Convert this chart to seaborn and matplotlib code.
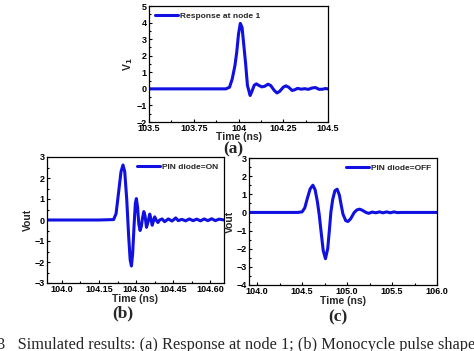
import numpy as np
import pandas as pd
import matplotlib
matplotlib.use('Agg')
import matplotlib.pyplot as plt
from matplotlib.ticker import AutoMinorLocator
import seaborn as sns

sns.set_style("ticks")
plt.rcParams['font.family'] = ['Liberation Sans', 'DejaVu Sans']

# (a) response at node 1
t_a = [103.5, 103.93, 103.95, 103.965, 103.98, 103.99, 104.0, 104.01, 104.02, 104.03,
       104.04, 104.05, 104.065, 104.075, 104.088, 104.10, 104.115, 104.13, 104.145, 104.165,
       104.18, 104.20, 104.215, 104.23, 104.25, 104.265, 104.28, 104.30, 104.315, 104.33,
       104.35, 104.37, 104.39, 104.41, 104.43, 104.45, 104.47, 104.485, 104.5]
v_a = [0, 0, 0.1, 0.6, 1.4, 2.2, 3.3, 3.95, 3.7, 2.6,
       1.5, 0.2, -0.4, -0.15, 0.22, 0.3, 0.2, 0.12, 0.15, 0.28,
       0.2, -0.1, -0.25, -0.15, 0.1, 0.18, 0.1, -0.1, -0.05, 0.03,
       -0.02, 0.01, -0.03, 0.05, 0.08, -0.03, -0.02, 0.02, 0]

# (b) PIN diode = ON
t_b = [103.94, 104.15, 104.209, 104.219, 104.229, 104.239, 104.247, 104.254, 104.262, 104.270,
       104.276, 104.281, 104.286, 104.292, 104.297, 104.301, 104.306, 104.311, 104.316, 104.321,
       104.326, 104.331, 104.336, 104.342, 104.348, 104.355, 104.360, 104.365, 104.370, 104.375,
       104.381, 104.388, 104.395, 104.405, 104.415, 104.43, 104.445, 104.46, 104.47, 104.485,
       104.50, 104.515, 104.53, 104.545, 104.56, 104.575, 104.59, 104.605, 104.62, 104.635, 104.655]
v_b = [0, 0, 0.02, 0.3, 1.3, 2.3, 2.62, 2.3, 1.0, -0.8,
       -1.9, -2.19, -1.6, -0.2, 0.8, 1.02, 0.6, -0.2, -0.5, -0.3,
       0.1, 0.4, 0.2, -0.35, -0.1, 0.28, 0.05, -0.25, -0.05, 0.15,
       0.0, -0.12, 0.0, 0.05, -0.08, 0.05, -0.05, 0.1, -0.03, 0.03,
       -0.04, 0.05, -0.03, 0.04, -0.04, 0.05, -0.03, 0.06, -0.03, 0.04, 0]

# (c) PIN diode = OFF
t_c = [103.91, 104.45, 104.50, 104.53, 104.56, 104.59, 104.62, 104.645, 104.67, 104.69,
       104.71, 104.735, 104.76, 104.785, 104.805, 104.82, 104.84, 104.865, 104.89, 104.915,
       104.935, 104.955, 104.985, 105.01, 105.04, 105.08, 105.11, 105.14, 105.17, 105.21,
       105.24, 105.28, 105.32, 105.36, 105.40, 105.44, 105.48, 105.52, 105.56, 105.6, 106.0]
v_c = [0, 0, 0.03, 0.25, 0.8, 1.3, 1.5, 1.25, 0.6, -0.1,
       -1.0, -2.1, -2.55, -2.0, -0.9, 0.0, 0.7, 1.2, 1.28, 0.95,
       0.4, -0.1, -0.45, -0.5, -0.35, 0.0, 0.14, 0.18, 0.12, 0.0,
       -0.05, 0.02, -0.02, 0.03, -0.02, 0.03, -0.02, 0.03, -0.01, 0, 0]

xt_a = [103.5, 103.75, 104.0, 104.25, 104.5]
xl_a = ["103.5", "103.75", "104", "104.25", "104.5"]
xt_b = [104.0, 104.15, 104.30, 104.45, 104.60]
xl_b = ["104.0", "104.15", "104.30", "104.45", "104.60"]
xt_c = [104.0, 104.5, 105.0, 105.5, 106.0]
xl_c = ["104.0", "104.5", "105.0", "105.5", "106.0"]

BLUE = '#1010e0'
W, H = 474, 351
fig = plt.figure(figsize=(W / 100, H / 100), dpi=100)
fig.patch.set_facecolor('white')


def box(l, t, r, b):
    return [l / W, 1 - b / H, (r - l) / W, (b - t) / H]


def panel(rect, t, v, label, xlim, ylim, xt, xl, ylabel, loc, xpad=0):
    ax = fig.add_axes(rect)
    df = pd.DataFrame({'t': t, 'v': v})
    sns.lineplot(data=df, x='t', y='v', ax=ax, color=BLUE, lw=2.2, label=label,
                 sort=False, estimator=None)
    ax.set_xlim(*xlim)
    ax.set_ylim(*ylim)
    ax.set_xticks(xt)
    ax.set_xticklabels(xl)
    ax.set_yticks(range(ylim[0], ylim[1] + 1))
    ax.xaxis.set_minor_locator(AutoMinorLocator(2))
    ax.yaxis.set_minor_locator(AutoMinorLocator(2))
    ax.tick_params(which='both', direction='in', top=False, right=False, pad=1.5,
                   labelsize=6.5, width=0.8, colors='black')
    ax.tick_params(which='major', length=2.5)
    ax.tick_params(which='minor', length=1.5)
    for lab in ax.get_xticklabels() + ax.get_yticklabels():
        lab.set_fontweight('bold')
    for s in ax.spines.values():
        s.set_linewidth(0.9)
        s.set_color('black')
    ax.set_xlabel('Time (ns)', fontsize=7.5, fontweight='bold', labelpad=xpad)
    ax.set_ylabel(ylabel, fontsize=7.5, fontweight='bold', labelpad=1)
    leg = ax.legend(loc=loc, frameon=False, fontsize=6, handlelength=2.8,
                    handletextpad=0.2, borderaxespad=0.3)
    for txt in leg.get_texts():
        txt.set_fontweight('bold')
    return ax


panel(box(149, 6, 328, 122), t_a, v_a, 'Response at node 1', (103.5, 104.5), (-2, 5),
      xt_a, xl_a, r'V$_\mathbf{1}$', 'upper left', xpad=-1)
panel(box(47, 157, 224, 283), t_b, v_b, 'PIN diode=ON', (103.94, 104.655), (-3, 3),
      xt_b, xl_b, 'Vout', 'upper right')
panel(box(249, 158, 437, 285), t_c, v_c, 'PIN diode=OFF', (103.91, 106.0), (-4, 3),
      xt_c, xl_c, 'Vout', 'upper right')

serif = ['Liberation Serif', 'DejaVu Serif']
fig.text(233 / W, 1 - 149 / H, '(a)', ha='center', va='center', fontsize=12.5,
         fontweight='bold', family=serif)
fig.text(123 / W, 1 - 313 / H, '(b)', ha='center', va='center', fontsize=12.5,
         fontweight='bold', family=serif)
fig.text(338 / W, 1 - 317 / H, '(c)', ha='center', va='center', fontsize=12.5,
         fontweight='bold', family=serif)
fig.text(-3 / W, 1 - 345 / H,
         '3   Simulated results: (a) Response at node 1; (b) Monocycle pulse shape',
         ha='left', va='center', fontsize=11.8, family=serif)

fig.savefig('out.png', dpi=100)
